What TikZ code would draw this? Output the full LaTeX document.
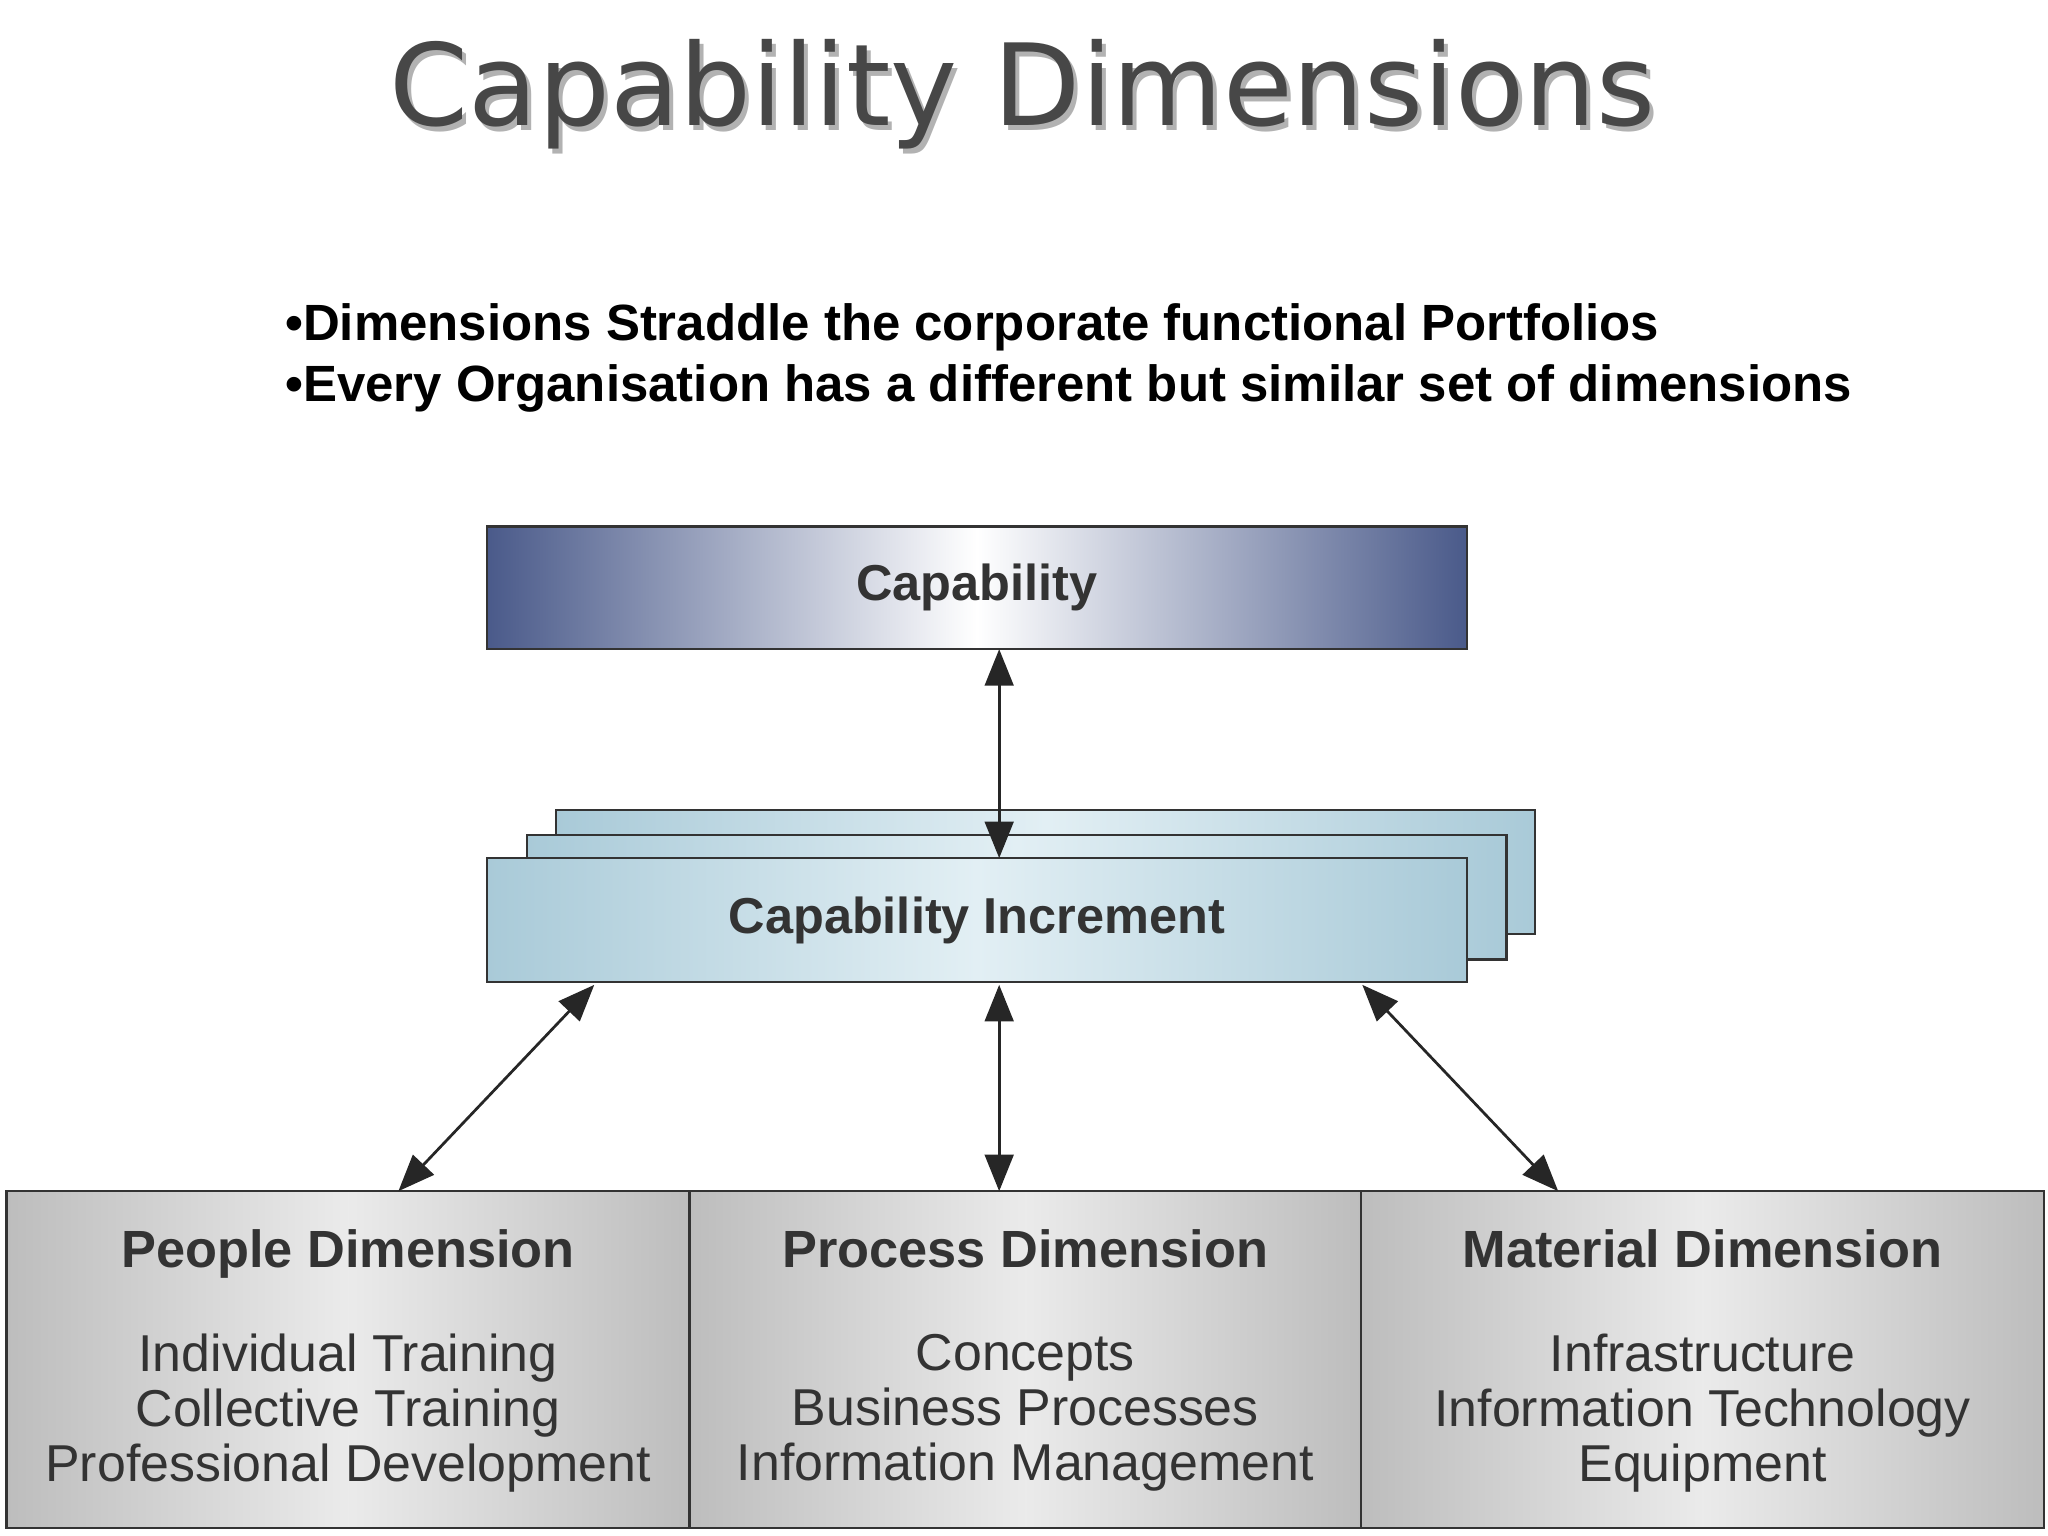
\documentclass[tikz,border=0pt]{standalone}
\usepackage{fontspec}
\setmainfont{Liberation Sans}
\newfontfamily\titlefont{DejaVu Sans}
\usetikzlibrary{arrows.meta}
\definecolor{capblue}{HTML}{4A5A8A}
\definecolor{incblue}{HTML}{A9CAD8}
\definecolor{incpale}{HTML}{E2EFF4}
\definecolor{dimgray}{HTML}{BDBDBD}
\definecolor{txtgray}{HTML}{333333}
\tikzset{
	box/.style={draw=black!80, line width=0.5pt, inner sep=0pt},
	capbox/.style={box, shading=axis, left color=capblue, right color=capblue, middle color=white,
		minimum width=75mm, minimum height=9.4mm},
	incbox/.style={box, shading=axis, left color=incblue, right color=incblue, middle color=incpale,
		minimum width=75mm, minimum height=9.5mm},
	dimbox/.style={box, shading=axis, left color=dimgray, right color=dimgray, middle color=white!92!black,
		minimum width=52.3mm, minimum height=25.8mm},
	boxlabel/.style={text=txtgray, font=\bfseries\fontsize{11}{12}\selectfont},
	dimtitle/.style={text=txtgray, anchor=base, font=\bfseries\fontsize{11.4}{12}\selectfont},
	dimbody/.style={text=txtgray, align=center, font=\fontsize{11.3}{11.95}\selectfont},
	link/.style={{Triangle[length=2.8mm,width=2.2mm]}-{Triangle[length=2.8mm,width=2.2mm]}, line width=0.6pt, black!85}
}
\begin{document}
\begin{tikzpicture}[x=0.1mm, y=-0.1mm]
	\useasboundingbox (0,0) rectangle (1568,1176);
	% heading
	\node[text=black!30, font=\titlefont\fontsize{24.7}{30}\selectfont] at (786,76) {Capability Dimensions};
	\node (heading) [text=black!72, font=\titlefont\fontsize{24.7}{30}\selectfont] at (783,72) {Capability Dimensions};
	\node (bullets) [anchor=north west, align=left, font=\bfseries\fontsize{11.1}{13.3}\selectfont] at (206,220)
		{•Dimensions Straddle the corporate functional Portfolios\\
		 •Every Organisation has a different but similar set of dimensions};

	% boxes
	\node (capability) [capbox] at (748,450) {};
	\node[boxlabel] at (capability) {Capability};
	\node (incback) [incbox] at (800.5,667.5) {};
	\node (incmid) [incbox] at (778.5,687) {};
	\node (increment) [incbox] at (748,704.5) {};
	\node[boxlabel] at (increment) {Capability Increment};

	\node (people) [dimbox] at (266.5,1041) {};
	\node (process) [dimbox, minimum width=51.4mm] at (785,1041) {};
	\node (material) [dimbox] at (1303.5,1041) {};
	\foreach \n/\t/\a/\b/\c in {people/People Dimension/Individual Training/Collective Training/Professional Development,
		process/Process Dimension/Concepts/Business Processes/Information Management,
		material/Material Dimension/Infrastructure/Information Technology/Equipment} {
		\node[dimtitle] at ([yshift=-5.9mm]\n.north) {\t};
		\node[dimbody, anchor=north] at ([yshift=-9.8mm]\n.north) {\a\\\b\\\c};
	}

	% connectors
	\coordinate (capfoot) at (765,497);
	\coordinate (inctop) at (765,657);
	\draw[link] (capfoot) -- (inctop);
	\coordinate (incA) at (455,754);
	\coordinate (incB) at (765,754);
	\coordinate (incC) at (1043,754);
	\coordinate (peopleTop) at (305,912);
	\coordinate (processTop) at (765,912);
	\coordinate (materialTop) at (1193,912);
	\draw[link] (incA) -- (peopleTop);
	\draw[link] (incB) -- (processTop);
	\draw[link] (incC) -- (materialTop);
\end{tikzpicture}
\end{document}
